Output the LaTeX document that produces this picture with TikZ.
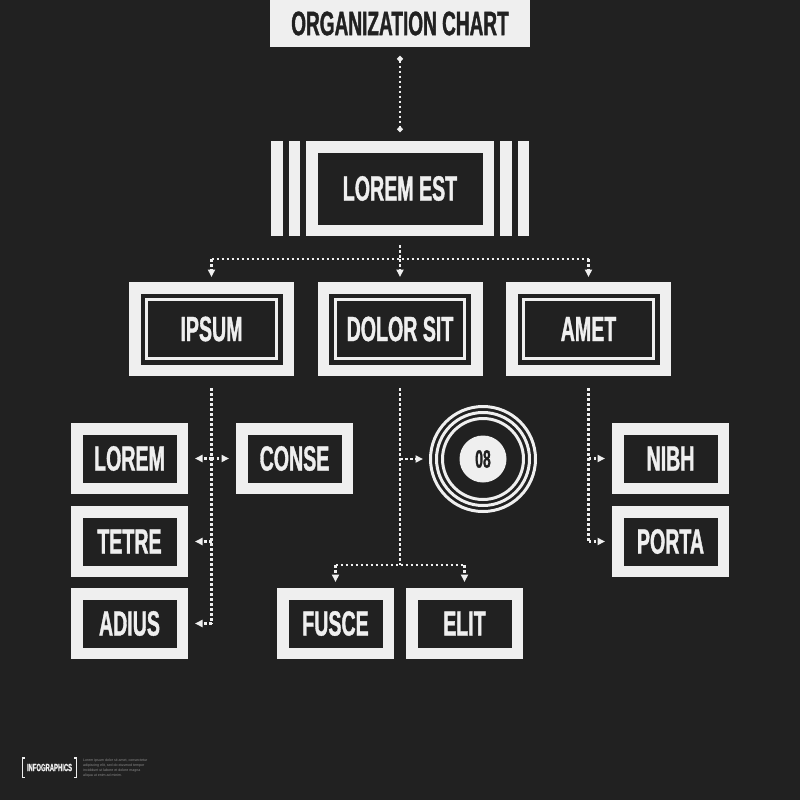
\documentclass[tikz,border=0pt]{standalone}
\usepackage{fontspec}
\setmainfont{Liberation Sans}[FakeStretch=0.56,FakeBold=1]
\newfontfamily\plainfont{Liberation Sans}
\usetikzlibrary{arrows.meta}
\definecolor{bgdark}{HTML}{212121}
\definecolor{boxlight}{HTML}{EFEFEF}
\definecolor{blurbgray}{HTML}{8A8A8A}

\begin{document}
\begin{tikzpicture}[x=1pt,y=-1pt,
  boxtext/.style={font=\fontsize{35}{35}\selectfont\bfseries,text=boxlight},
  plainbox/.style={boxtext,rectangle,fill=bgdark,draw=boxlight,line width=11.5pt,inner sep=0pt,minimum width=105.5pt,minimum height=59.5pt},
  framedbox/.style={plainbox,minimum width=153.5pt,minimum height=82.5pt,
    path picture={\draw[boxlight,line width=3pt] ([shift={(12pt,12pt)}]path picture bounding box.south west) rectangle ([shift={(-12pt,-12pt)}]path picture bounding box.north east);}},
  dotline/.style={boxlight,line width=2.2pt,dash pattern=on 2.5pt off 2.5pt},
  dotarrow/.style={dotline,-{Triangle[width=7pt,length=7.5pt]}}]

\fill[bgdark] (0,0) rectangle (800,800);
\useasboundingbox (0,0) rectangle (800,800);

\node[rectangle,fill=boxlight,text=bgdark,font=\fontsize{34}{34}\selectfont\bfseries,minimum width=260pt,minimum height=47pt,inner sep=0pt] (title) at (400,23.5) {ORGANIZATION CHART};

\node[plainbox,minimum width=176.5pt,minimum height=83.5pt] (est) at (400,188.5) {LOREM EST};
\foreach \a/\b in {271/282.5,288.5/300,500/511.5,517.5/529}
  \fill[boxlight] (\a,141) rectangle (\b,236);

\node[framedbox] (ipsum) at (211.5,329) {IPSUM};
\node[framedbox] (dolor) at (400,329) {DOLOR SIT};
\node[framedbox] (amet) at (588.5,329) {AMET};

\node[plainbox] (lorem) at (129.5,458.5) {LOREM};
\node[plainbox] (tetre) at (129.5,541.5) {TETRE};
\node[plainbox] (adius) at (129.5,623.5) {ADIUS};
\node[plainbox] (conse) at (294.5,458.5) {CONSE};
\node[plainbox] (fusce) at (335.5,623.5) {FUSCE};
\node[plainbox] (elit) at (464.5,623.5) {ELIT};
\node[plainbox] (nibh) at (670.5,458.5) {NIBH};
\node[plainbox] (porta) at (670.5,541.5) {PORTA};

\node[circle,draw=boxlight,line width=3pt,minimum size=105pt,inner sep=0pt,text=bgdark,font=\fontsize{25}{25}\selectfont\bfseries,
  path picture={\fill[boxlight] (path picture bounding box.center) circle (23.5pt);
    \draw[boxlight,line width=3pt] (path picture bounding box.center) circle (46.5pt) (path picture bounding box.center) circle (40.5pt);}] (ring) at (483,459) {08};

\draw[dotline,{Circle[length=5.5pt]}-{Circle[length=5.5pt]}] ([yshift=-9pt]title.south) -- ([yshift=9pt]est.north);

\coordinate (topbus) at (400,259);
\draw[dotline] ([yshift=-9pt]est.south) -- (topbus);
\draw[dotline] (ipsum.north |- topbus) -- (amet.north |- topbus);
\foreach \n in {ipsum,dolor,amet}
  \draw[dotarrow] (\n.north |- topbus) -- ([yshift=5pt]\n.north);

\draw[dotline] ([yshift=-12pt]ipsum.south) -- (ipsum.south |- adius.east);
\draw[dotarrow] (ipsum.south |- conse.west) -- ([xshift=-7pt]conse.west);
\foreach \n in {lorem,tetre,adius}
  \draw[dotarrow] (ipsum.south |- \n.east) -- ([xshift=7pt]\n.east);

\coordinate (midbus) at (400,565);
\draw[dotline] ([yshift=-12pt]dolor.south) -- (midbus);
\draw[dotarrow] (dolor.south |- ring.west) -- ([xshift=-6pt]ring.west);
\draw[dotline] (fusce.north |- midbus) -- (elit.north |- midbus);
\foreach \n in {fusce,elit}
  \draw[dotarrow] (\n.north |- midbus) -- ([yshift=6pt]\n.north);

\draw[dotline] ([yshift=-12pt]amet.south) -- (amet.south |- porta.west);
\foreach \n in {nibh,porta}
  \draw[dotarrow] (amet.south |- \n.west) -- ([xshift=-7pt]\n.west);

\node[font=\fontsize{10.5}{10.5}\selectfont\bfseries,text=boxlight,inner sep=0pt,minimum height=19pt] (info) at (49.5,767.5) {INFOGRAPHICS};
\draw[boxlight,line width=1.4pt] ([xshift=-2pt]info.north west) -- ++(-2.5,0) |- ([xshift=-2pt]info.south west);
\draw[boxlight,line width=1.4pt] ([xshift=2pt]info.north east) -- ++(2.5,0) |- ([xshift=2pt]info.south east);
\node[anchor=west,font=\plainfont\fontsize{3.6}{4.9}\selectfont,text=blurbgray,align=left,inner sep=0pt] (blurb) at (83,768) {Lorem ipsum dolor sit amet, consectetur\\adipiscing elit, sed do eiusmod tempor\\incididunt ut labore et dolore magna\\aliqua ut enim ad minim.};

\end{tikzpicture}
\end{document}
